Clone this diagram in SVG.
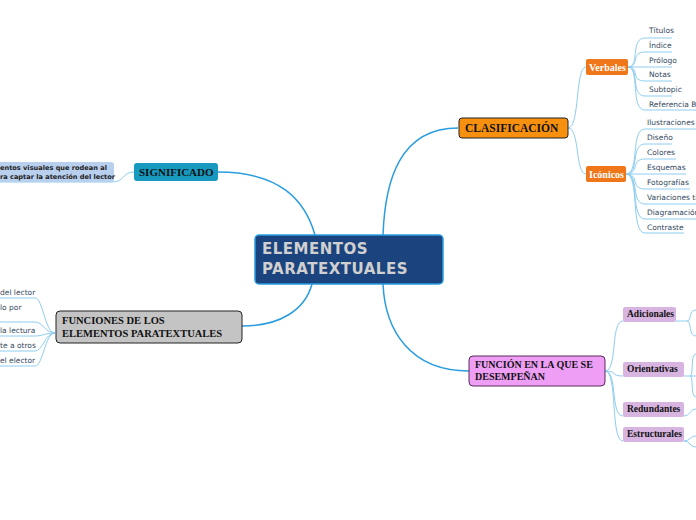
<svg xmlns="http://www.w3.org/2000/svg" width="696" height="520" viewBox="0 0 696 520">
<style>
.c{fill:none;stroke:#2a9de0;stroke-width:1.5}
.t{fill:none;stroke:#8ecdf0;stroke-width:1}
.s{font-family:"DejaVu Sans",sans-serif;font-size:7.5px;fill:#34495e}
.b{font-family:"Liberation Serif",serif;font-weight:bold;fill:#111}
</style>
<g id="connectors">
<path class="c" d="M383 235 C385 180 400 128 458 128"/>
<path class="c" d="M315 235 C305 200 280 172 218 172"/>
<path class="c" d="M312 284 C305 310 280 326 242 326"/>
<path class="c" d="M383 284 C385 330 410 371 469 371"/>
<path class="t" d="M568 128 C580 128 575 67 586 67"/>
<path class="t" d="M568 128 C580 128 575 174 586 174"/>
<path class="t" d="M628 67 C640 67 630 38 645 38 L672 38 M628 67 C640 67 630 52 645 52 L672 52 M628 67 L645 67 L672 67 M628 67 C640 67 630 81 645 81 L672 81 M628 67 C640 67 630 96 645 96 L672 96 M628 67 C640 67 630 110 645 110 L696 110"/>
<path class="t" d="M626 174 C640 174 630 129 645 129 L696 129 M626 174 C640 174 630 144 645 144 L672 144 M626 174 C640 174 630 159 645 159 L676 159 M626 174 L645 174 L686 174 M626 174 C640 174 630 189 645 189 L690 189 M626 174 C640 174 630 204 645 204 L696 204 M626 174 C640 174 630 219 645 219 L696 219 M626 174 C640 174 630 233 645 233 L684 233"/>
<path class="t" d="M134 172 C122 172 125 182 112 182 L0 182"/>
<path class="t" d="M55 333 C45 333 43 298 35 298 L0 298 M55 333 C45 333 43 322 35 322 L0 322 M55 333 C45 333 43 336 35 336 L0 336 M55 333 C45 333 43 351 35 351 L0 351 M55 333 C45 333 43 366 35 366 L0 366"/>
<path class="t" d="M605 371 C618 371 610 321 623 321 M605 371 C618 371 610 376 623 376 M605 371 C618 371 610 416 623 416 M605 371 C618 371 610 441 623 441"/>
<path class="t" d="M676 321 L687 321 M687 321 C692 321 688 310 696 310 M687 321 C692 321 688 336 696 336"/>
<path class="t" d="M684 376 L690 376 M690 376 C694 376 690 354 696 354 M690 376 L696 376 M690 376 C694 376 690 397 696 397"/>
<path class="t" d="M684 416 C690 416 690 409 696 409"/>
<path class="t" d="M684 441 C690 441 690 436 696 436 M684 441 C690 441 690 447 696 447"/>
</g>
<g id="central"><rect x="255" y="235" width="188" height="49" rx="4" fill="#1b447e" stroke="#2a9de0" stroke-width="1.5"/>
<text font-family="DejaVu Sans" font-weight="bold" font-size="15" fill="#d0d0d0" letter-spacing="0.5"><tspan x="262" y="254">ELEMENTOS</tspan><tspan x="262" y="274">PARATEXTUALES</tspan></text></g>
<g id="clasificacion"><rect x="459" y="118" width="109" height="20" rx="3" fill="#f7900f" stroke="#222"/><text class="b" x="465" y="132" font-size="11.5">CLASIFICACIÓN</text></g>
<g id="verbales"><rect x="586" y="59" width="42" height="16" rx="2" fill="#f0761a"/><text x="589" y="71" font-family="Liberation Serif" font-weight="bold" font-size="10" fill="#fff">Verbales</text></g>
<g id="iconicos"><rect x="586" y="166" width="40" height="16" rx="2" fill="#f0761a"/><text x="589" y="178" font-family="Liberation Serif" font-weight="bold" font-size="10" fill="#fff">Icónicos</text></g>
<g id="verbales-items">
<text class="s" x="649" y="33">Títulos</text><text class="s" x="649" y="48">Índice</text><text class="s" x="649" y="63">Prólogo</text><text class="s" x="649" y="77">Notas</text><text class="s" x="649" y="92">Subtopic</text><text class="s" x="649" y="107">Referencia Bi</text>
</g>
<g id="iconicos-items">
<text class="s" x="647" y="125">Ilustraciones</text><text class="s" x="647" y="140">Diseño</text><text class="s" x="647" y="155">Colores</text><text class="s" x="647" y="170">Esquemas</text><text class="s" x="647" y="185">Fotografías</text><text class="s" x="647" y="200">Variaciones tip</text><text class="s" x="647" y="215">Diagramación</text><text class="s" x="647" y="230">Contraste</text>
</g>
<g id="significado"><rect x="134" y="163" width="84" height="18" rx="3" fill="#1799c0"/><text class="b" x="139" y="176" font-size="11">SIGNIFICADO</text></g>
<g id="sig-def"><rect x="-4" y="162" width="118" height="20" rx="3" fill="#b8cfee"/><text font-family="DejaVu Sans" font-weight="bold" font-size="6.6" fill="#222"><tspan x="0" y="170">entos visuales que rodean al</tspan><tspan x="0" y="178.5">ra captar la atención del lector</tspan></text></g>
<g id="funciones"><rect x="56" y="311" width="186" height="32" rx="4" fill="#c4c4c4" stroke="#222"/><text class="b" font-size="10.5"><tspan x="62" y="324">FUNCIONES DE LOS</tspan><tspan x="62" y="337">ELEMENTOS PARATEXTUALES</tspan></text></g>
<g id="funciones-items">
<text class="s" x="0" y="295">del lector</text><text class="s" x="0" y="310">lo por</text><text class="s" x="0" y="333">la lectura</text><text class="s" x="0" y="348">te a otros</text><text class="s" x="0" y="363">el elector</text>
</g>
<g id="funcion"><rect x="469" y="356" width="136" height="30" rx="4" fill="#ee9ff5" stroke="#5a2a5a"/><text class="b" font-size="10" fill="#3a1440"><tspan x="475" y="368">FUNCIÓN EN LA QUE SE</tspan><tspan x="475" y="380">DESEMPEÑAN</tspan></text></g>
<g id="adicionales"><rect x="623" y="307" width="53" height="15" rx="2" fill="#d8b4e0"/><text class="b" x="627" y="317" font-size="9.5" fill="#3a1440">Adicionales</text></g>
<g id="orientativas"><rect x="623" y="362" width="61" height="15" rx="2" fill="#d8b4e0"/><text class="b" x="627" y="372" font-size="9.5" fill="#3a1440">Orientativas</text></g>
<g id="redundantes"><rect x="623" y="402" width="61" height="15" rx="2" fill="#d8b4e0"/><text class="b" x="627" y="412" font-size="9.5" fill="#3a1440">Redundantes</text></g>
<g id="estructurales"><rect x="623" y="427" width="61" height="15" rx="2" fill="#d8b4e0"/><text class="b" x="627" y="437" font-size="9.5" fill="#3a1440">Estructurales</text></g>
</svg>
